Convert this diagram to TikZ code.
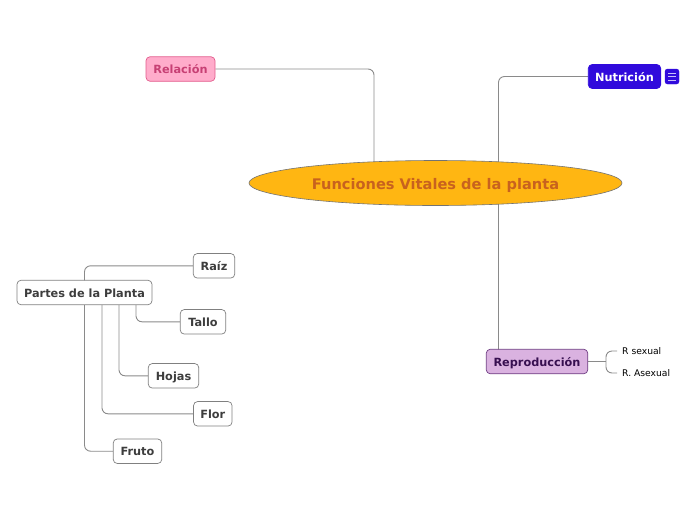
\documentclass[tikz,border=0pt]{standalone}
\usepackage{fontspec}
\setmainfont{DejaVu Sans}
\usetikzlibrary{shapes.geometric,backgrounds}
\definecolor{lineg}{HTML}{8A8A8A}
\definecolor{edgeg}{HTML}{808080}
\definecolor{darktxt}{HTML}{3D3D3D}
\definecolor{rootfill}{HTML}{FFB612}
\definecolor{roottxt}{HTML}{C8621E}
\definecolor{relfill}{HTML}{FFACCB}
\definecolor{reledge}{HTML}{E25C8C}
\definecolor{reltxt}{HTML}{C74074}
\definecolor{nutblue}{HTML}{300ADC}
\definecolor{nutbar}{HTML}{C8BEFA}
\definecolor{repfill}{HTML}{DAB2E0}
\definecolor{repedge}{HTML}{6E3C82}
\definecolor{reptxt}{HTML}{370F50}
\tikzset{
  x=1pt,y=1pt,
  conn/.style={draw=lineg,line width=0.9pt,rounded corners=6pt},
  topic/.style={draw=edgeg,fill=white,rounded corners=4pt,line width=0.7pt,text=darktxt,font=\bfseries\fontsize{11.3}{14}\selectfont,inner sep=0pt,minimum height=24.5pt,text height=10pt,text depth=1pt},
  leaf/.style={font=\fontsize{9.2}{11}\selectfont,text=black,inner sep=0pt,anchor=west},
}
\begin{document}
\begin{tikzpicture}
\useasboundingbox (0,0) rectangle (696,-520);
\node[ellipse,draw=black!55,fill=rootfill,line width=0.6pt,inner sep=0pt,minimum width=373pt,minimum height=45pt,text=roottxt,font=\bfseries\fontsize{14.6}{16}\selectfont,text height=13pt,text depth=1pt] (root) at (435.5,-183) {Funciones Vitales de la planta};
\node[topic,draw=reledge,fill=relfill,text=reltxt,minimum width=69pt] (rel) at (180.5,-69) {Relación};
\node[topic,draw=nutblue,fill=nutblue,text=white,minimum width=72.5pt,minimum height=24pt] (nut) at (624.5,-76.5) {Nutrición};
\node[draw=nutblue,fill=nutblue,rounded corners=2.5pt,minimum width=14pt,minimum height=15pt,inner sep=0pt] (icon) at (672,-76.5) {};
\draw[draw=nutbar,line width=1pt] (668,-73) -- (676,-73) (668,-76.5) -- (676,-76.5) (668,-80) -- (676,-80);
\node[topic,draw=repedge,fill=repfill,text=reptxt,minimum width=101.5pt] (rep) at (537,-361.5) {Reproducción};
\node[topic,minimum width=135pt] (par) at (84.5,-292.5) {Partes de la Planta};
\node[topic,minimum width=41.5pt] (rai) at (214,-265.8) {Raíz};
\node[topic,minimum width=45.5pt] (tal) at (203,-321.8) {Tallo};
\node[topic,minimum width=50.5pt] (hoj) at (173.5,-375.8) {Hojas};
\node[topic,minimum width=38.5pt] (flo) at (212.8,-413.8) {Flor};
\node[topic,minimum width=48.5pt] (fru) at (137.5,-451.2) {Fruto};
\node[leaf] (sex) at (622,-351) {R sexual};
\node[leaf] (ase) at (622,-373) {R. Asexual};
\coordinate (relin) at (374,-183);
\coordinate (nutin) at (498.5,-183);
\coordinate (repin) at (498.5,-361.5);
\coordinate (fork) at (606,-361.5);
\coordinate (sexend) at (617,-351);
\coordinate (aseend) at (617,-373);
\begin{scope}[on background layer]
\draw[conn] (rel.east) -| (relin);
\draw[conn] (nut.west) -| (nutin);
\draw[conn] (nutin) -- (repin);
\draw[conn] (rep.east) -- (fork);
\draw[conn] (sexend) -| (fork) |- (aseend);
\draw[conn] (rai.west) -| (par.center);
\draw[conn] (tal.west) -| (136,-292.5);
\draw[conn] (hoj.west) -| (119,-292.5);
\draw[conn] (flo.west) -| (102,-292.5);
\draw[conn] (fru.west) -| (par.center);
\end{scope}
\end{tikzpicture}
\end{document}
